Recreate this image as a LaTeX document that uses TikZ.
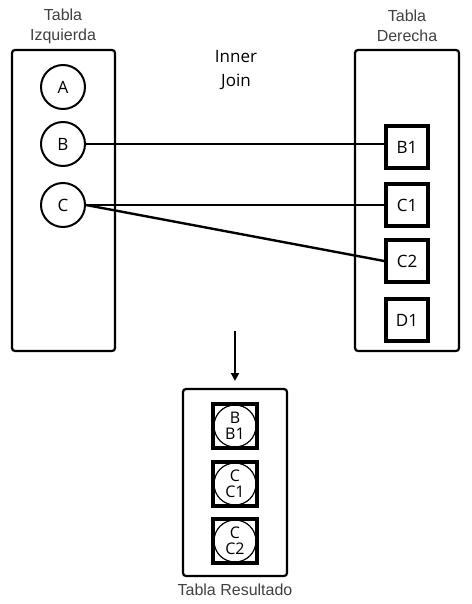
\documentclass[tikz,border=0pt]{standalone}
\usepackage{fontspec}
\setmainfont{Open Sans}
\newfontfamily\labfont{Liberation Sans}
\usetikzlibrary{arrows.meta}
\begin{document}
\begin{tikzpicture}[x=1pt,y=-1pt,
  tbl/.style={draw, line width=2.2pt, rounded corners=3pt},
  circ/.style={draw, circle, line width=2pt, minimum size=44pt, inner sep=0pt, font=\fontsize{17}{19}\selectfont},
  sq/.style={draw, rectangle, line width=3.8pt, minimum size=42pt, inner sep=0pt, font=\fontsize{17}{19}\selectfont},
  rsq/.style={draw, rectangle, line width=4pt, minimum size=44pt, inner sep=0pt},
  rcirc/.style={draw, circle, line width=1.2pt, minimum size=42pt, inner sep=0pt, align=center, font=\fontsize{16}{16}\selectfont},
  lab/.style={align=center, text=black!75, font=\labfont\fontsize{16}{20}\selectfont},
  conn/.style={line width=2.4pt}]
\useasboundingbox (0,0) rectangle (471,604);
\draw[tbl] (12,50) rectangle (115,351);
\draw[tbl] (355,50) rectangle (459,351);
\draw[tbl] (183,389) rectangle (287,576);
\node[lab] (tl) at (63,26) {Tabla\\Izquierda};
\node[lab] (tr) at (407,26) {Tabla\\Derecha};
\node[align=center, font=\fontsize{17}{24}\selectfont] (ij) at (236,70) {Inner\\Join};
\node[circ] (A) at (63,87) {A};
\node[circ] (B) at (63,144) {B};
\node[circ] (C) at (63,205) {C};
\node[sq] (B1) at (407,147) {B1};
\node[sq] (C1) at (407,205) {C1};
\node[sq] (C2) at (407,261) {C2};
\node[sq] (D1) at (407,320) {D1};
\draw[conn] (B.east) -- (B1.west |- B.east);
\draw[conn] (C.east) -- (C1.west);
\draw[conn] (C.east) -- (C2.west);
\coordinate (as) at (235,331);
\coordinate (ae) at (235,381);
\draw[line width=2.6pt, -{Triangle[length=8pt,width=8pt]}] (as) -- (ae);
\foreach \y/\t/\n in {426/{B\\B1}/r1, 484/{C\\C1}/r2, 541/{C\\C2}/r3}{
  \node[rsq] (\n s) at (235,\y) {};
  \node[rcirc] (\n) at (235,\y) {\t};
}
\node[lab] (tres) at (235,590) {Tabla Resultado};
\end{tikzpicture}
\end{document}
